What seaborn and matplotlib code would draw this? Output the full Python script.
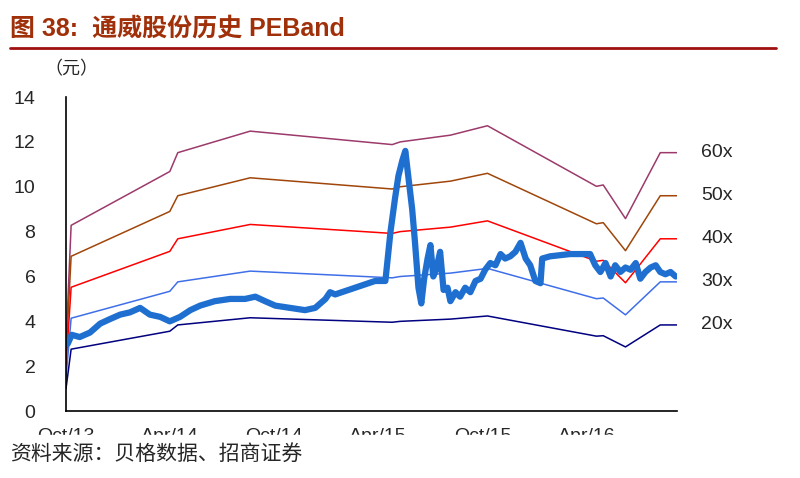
import matplotlib
matplotlib.use("Agg")
import matplotlib.pyplot as plt
import matplotlib.dates as mdates
import seaborn as sns
import pandas as pd
from matplotlib.patches import Rectangle
from matplotlib.lines import Line2D

sns.set_theme(style="white")
plt.rcParams['font.family'] = ['Liberation Sans', 'Noto Sans CJK SC', 'DejaVu Sans']

band_dates = ["2013-10-01","2013-10-10","2014-04-01","2014-04-15","2014-08-20","2015-04-26",
              "2015-05-10","2015-08-06","2015-10-10","2016-04-18","2016-04-30","2016-06-08",
              "2016-08-08","2016-09-06"]
eps = [0.05,0.138,0.178,0.192,0.208,0.198,0.200,0.205,0.212,0.167,0.168,0.143,0.192,0.192]
multiples = [60, 50, 40, 30, 20]
band_colors = ["#9B3A6B", "#A0460A", "#FF0000", "#3F6FE8", "#000080"]

price_dates = ["2013-10-04","2013-10-11","2013-10-25","2013-11-12","2013-11-30","2013-12-17",
  "2014-01-04","2014-01-21","2014-02-08","2014-02-25","2014-03-15","2014-04-01","2014-04-19",
  "2014-05-07","2014-05-24","2014-06-19","2014-07-16","2014-08-11","2014-08-29","2014-09-15",
  "2014-10-03","2014-10-29","2014-11-24","2014-12-12","2014-12-30","2015-01-07","2015-01-16",
  "2015-03-27","2015-04-14","2015-04-23","2015-05-01","2015-05-07","2015-05-14","2015-05-19",
  "2015-05-24","2015-05-31","2015-06-05","2015-06-11","2015-06-16","2015-06-21","2015-06-27",
  "2015-07-02","2015-07-07","2015-07-12","2015-07-19","2015-07-25","2015-08-01","2015-08-06",
  "2015-08-15","2015-08-23","2015-09-01","2015-09-10","2015-09-19","2015-09-28","2015-10-06",
  "2015-10-15","2015-10-24","2015-11-02","2015-11-10","2015-11-19","2015-11-28","2015-12-07",
  "2015-12-16","2015-12-24","2016-01-02","2016-01-11","2016-01-14","2016-01-28","2016-03-03",
  "2016-04-07","2016-04-16","2016-04-25","2016-05-04","2016-05-13","2016-05-21","2016-05-30",
  "2016-06-08","2016-06-17","2016-06-26","2016-07-04","2016-07-13","2016-07-22","2016-07-31",
  "2016-08-08","2016-08-17","2016-08-26","2016-09-04"]
price = [3.0,3.4,3.3,3.5,3.9,4.1,4.3,4.4,4.6,4.3,4.2,4.0,4.2,4.5,4.7,4.9,5.0,5.0,5.1,4.9,
  4.7,4.6,4.5,4.6,5.0,5.3,5.2,5.8,5.8,8.0,9.5,10.5,11.2,11.6,10.5,9.0,7.5,5.5,4.8,5.9,6.8,
  7.4,6.0,6.3,7.1,5.4,5.5,4.9,5.3,5.1,5.5,5.3,5.8,5.9,6.3,6.6,6.5,7.0,6.8,6.9,7.1,7.5,6.8,
  6.5,5.8,5.7,6.8,6.9,7.0,7.0,6.5,6.2,6.6,6.0,6.5,6.2,6.4,6.3,6.6,5.9,6.2,6.4,6.5,6.2,6.1,
  6.2,6.0]
xtick_labels = ["Oct/13","Apr/14","Oct/14","Apr/15","Oct/15","Apr/16"]
xtick_dates = ["2013-10-01","2014-04-01","2014-10-01","2015-04-01","2015-10-01","2016-04-01"]

bd = pd.to_datetime(band_dates)
rows = []
for m, c in zip(multiples, band_colors):
    for d, e in zip(bd, eps):
        rows.append({"date": d, "value": e*m, "band": f"{m}x"})
bands = pd.DataFrame(rows)
pdf = pd.DataFrame({"date": pd.to_datetime(price_dates), "price": price})

fig = plt.figure(figsize=(8, 4.78), dpi=100)
ax = fig.add_axes([0.0825, 0.140, 0.7635, 0.657])
sns.lineplot(data=bands, x="date", y="value", hue="band", palette=band_colors,
             hue_order=[f"{m}x" for m in multiples], linewidth=1.1, ax=ax, legend=False)
sns.lineplot(data=pdf, x="date", y="price", color="#1F6FD0", linewidth=4.5, ax=ax)
ax.set_xlim(pd.Timestamp("2013-10-01"), pd.Timestamp("2016-09-06"))
ax.set_ylim(0, 14)
ax.set_yticks(range(0, 15, 2))
ax.set_xticks(pd.to_datetime(xtick_dates))
ax.set_xticklabels(xtick_labels)
ax.set_xlabel(""); ax.set_ylabel("")
for s in ["top", "right"]:
    ax.spines[s].set_visible(False)
for s in ["left", "bottom"]:
    ax.spines[s].set_color("black"); ax.spines[s].set_linewidth(1.2)
ax.tick_params(axis="x", direction="in", length=5, color="black", labelsize=14, pad=12)
ax.tick_params(axis="y", length=0, labelsize=14, pad=22)

last = eps[-1]
for m in multiples:
    ax.text(1.04, last*m, f"{m}x", transform=ax.get_yaxis_transform(), fontsize=14,
            va="center", ha="left")

fig.text(0.055, 0.845, "（元）", fontsize=13, family=['Noto Sans CJK SC', 'DejaVu Sans'])
fig.text(0.012, 0.94, "图 38:  通威股份历史 PEBand", fontsize=18, fontweight="bold",
         color="#A0300A", va="center", family=['Liberation Sans', 'Noto Sans CJK SC'])
fig.add_artist(Line2D([0.012, 0.97], [0.899, 0.899], color="#A01010", linewidth=2))
fig.add_artist(Rectangle((0, 0), 1, 0.09, transform=fig.transFigure, color="white", zorder=5))
fig.text(0.012, 0.05, "资料来源：贝格数据、招商证券", fontsize=15, va="center", zorder=6,
         family=['Noto Sans CJK SC', 'DejaVu Sans'])
fig.savefig("out.png", dpi=100)
